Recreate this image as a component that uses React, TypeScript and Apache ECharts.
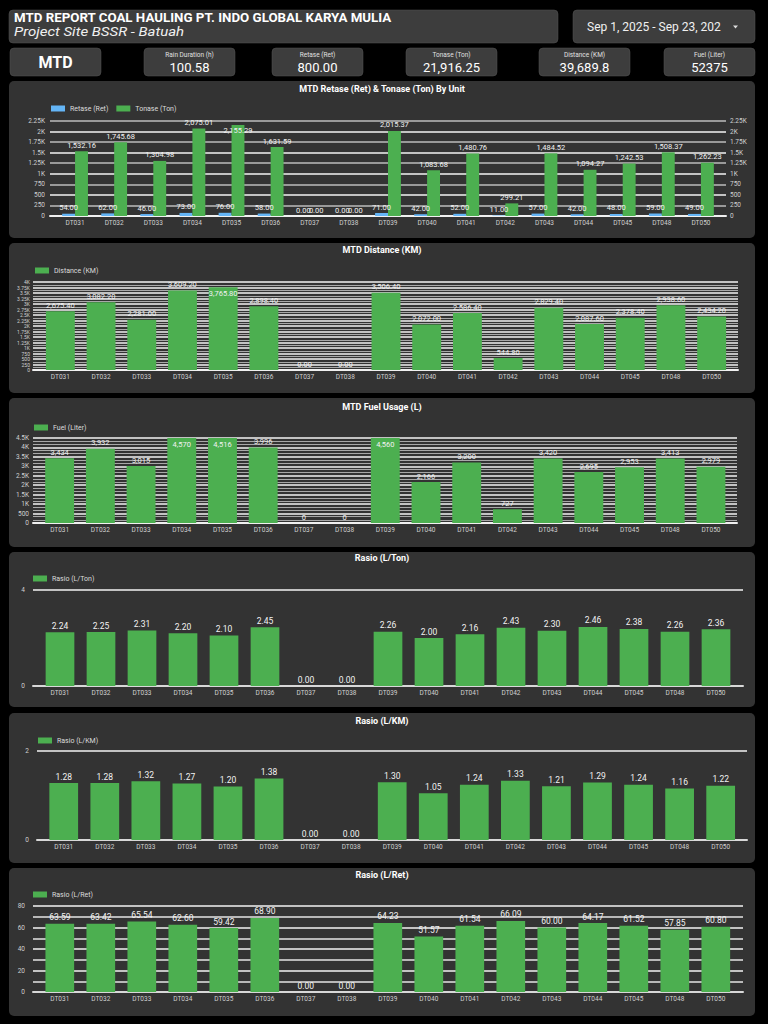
import React, { useEffect, useRef } from 'react';
import * as echarts from 'echarts';

// ---- data -------------------------------------------------------------
const units = ['DT031', 'DT032', 'DT033', 'DT034', 'DT035', 'DT036', 'DT037', 'DT038', 'DT039', 'DT040', 'DT041', 'DT042', 'DT043', 'DT044', 'DT045', 'DT048', 'DT050'];
const retase = [54, 62, 46, 73, 76, 58, 0, 0, 71, 42, 52, 11, 57, 42, 48, 59, 49];
const tonase = [1532.16, 1745.68, 1304.98, 2075.01, 2155.29, 1631.59, 0, 0, 2015.37, 1083.68, 1480.76, 299.21, 1484.52, 1094.27, 1242.53, 1508.37, 1262.23];
const distance = [2675.4, 3082.2, 2281.0, 3609.2, 3765.8, 2898.4, 0, 0, 3506.4, 2072.0, 2586.4, 544.8, 2829.4, 2087.6, 2378.4, 2938.6, 2434.2];
const fuel = [3434, 3932, 3015, 4570, 4516, 3996, 0, 0, 4560, 2166, 3200, 727, 3420, 2695, 2953, 3413, 2979];
const ratioLTon = [2.24, 2.25, 2.31, 2.2, 2.1, 2.45, 0, 0, 2.26, 2.0, 2.16, 2.43, 2.3, 2.46, 2.38, 2.26, 2.36];
const ratioLKm = [1.28, 1.28, 1.32, 1.27, 1.2, 1.38, 0, 0, 1.3, 1.05, 1.24, 1.33, 1.21, 1.29, 1.24, 1.16, 1.22];
const ratioLRet = [63.59, 63.42, 65.54, 62.6, 59.42, 68.9, 0, 0, 64.23, 51.57, 61.54, 66.09, 60.0, 64.17, 61.52, 57.85, 60.8];

const scorecards = [
  { label: 'Rain Duration (h)', value: '100.58' },
  { label: 'Retase (Ret)', value: '800.00' },
  { label: 'Tonase (Ton)', value: '21,916.25' },
  { label: 'Distance (KM)', value: '39,689.8' },
  { label: 'Fuel (Liter)', value: '52375' },
];

// ---- styling ----------------------------------------------------------
const FONT = 'Roboto, "Noto Sans", sans-serif';
const GREEN = '#4caf50';
const BLUE = '#64b5f6';
const PANEL = '#333333';
const BOX = '#3d3d3d';

const num = (d: number) => (v: number) =>
  Number(v).toLocaleString('en-US', { minimumFractionDigits: d, maximumFractionDigits: d });
const kFmt = (v: number) => (v >= 1000 ? `${v / 1000}K` : `${v}`);

// Full-width plot areas carry the gridlines and baseline; the inset ones hold the bars.
const lineGrids = [
  { left: 50, width: 676, top: 121, height: 95 },
  { left: 33, width: 705, top: 282, height: 88 },
  { left: 33, width: 704, top: 438, height: 85 },
  { left: 33, width: 710, top: 590, height: 96 },
  { left: 37, width: 710, top: 751, height: 89 },
  { left: 33, width: 710, top: 906, height: 86 },
];
const barGrids = [
  { left: 55.5, width: 665, top: 121, height: 95 },
  { left: 40, width: 692, top: 282, height: 88 },
  { left: 39.3, width: 692, top: 438, height: 85 },
  { left: 39.5, width: 697, top: 590, height: 96 },
  { left: 43.2, width: 698, top: 751, height: 89 },
  { left: 39.3, width: 697, top: 906, height: 86 },
];

const panels = [
  { y: 81, h: 157 },
  { y: 243, h: 150 },
  { y: 398, h: 149 },
  { y: 552, h: 155 },
  { y: 713, h: 150 },
  { y: 868, h: 148 },
];

const titles = [
  { text: 'MTD Retase (Ret) & Tonase (Ton) By Unit', top: 84 },
  { text: 'MTD Distance (KM)', top: 245 },
  { text: 'MTD Fuel Usage (L)', top: 402 },
  { text: 'Rasio (L/Ton)', top: 553 },
  { text: 'Rasio (L/KM)', top: 716 },
  { text: 'Rasio (L/Ret)', top: 870 },
];

const legends = [
  { data: ['Retase (Ret)', 'Tonase (Ton)'], left: 51, top: 105 },
  { data: ['Distance (KM)'], left: 35, top: 267 },
  { data: ['Fuel (Liter)'], left: 34, top: 424 },
  { data: ['Rasio (L/Ton)'], left: 33, top: 575 },
  { data: ['Rasio (L/KM)'], left: 38, top: 737 },
  { data: ['Rasio (L/Ret)'], left: 33, top: 891 },
];

// value-axis ranges per chart: [max, interval]
const scales: [number, number][] = [
  [2250, 250],
  [4000, 250],
  [4500, 500],
  [4, 4],
  [2, 2],
  [80, 20],
];

const axisText = { color: '#d0d0d0', fontSize: 6.5, fontFamily: FONT };

function barData(values: number[], max: number) {
  return values.map((v) =>
    v / max > 0.93 ? { value: v, label: { position: 'insideTop', distance: 2 } } : v
  );
}

function barSeries(name: string, values: number[], chart: number, color: string, width: string, digits: number, fontSize: number) {
  return {
    type: 'bar',
    name,
    xAxisIndex: 6 + chart,
    yAxisIndex: 7 + chart,
    data: barData(values, scales[chart][0]),
    barWidth: width,
    barGap: '0%',
    itemStyle: { color },
    label: {
      show: true,
      position: 'top',
      distance: 2,
      color: '#f2f2f2',
      fontSize,
      fontFamily: FONT,
      formatter: (p: any) => num(digits)(p.value),
    },
  };
}

function lineYAxis(chart: number, opts: any = {}) {
  const [max, interval] = scales[chart];
  return {
    type: 'value',
    gridIndex: chart,
    min: 0,
    max,
    interval,
    axisLine: { show: false },
    axisTick: { show: false },
    axisLabel: { ...axisText, margin: 5, formatter: kFmt, showMinLabel: true, showMaxLabel: true, hideOverlap: false },
    splitLine: { lineStyle: { color: '#f5f5f5', width: 1.5 } },
    ...opts,
  };
}

function buildOption() {
  const graphic: any[] = [];
  graphic.push({ type: 'rect', z: -20, shape: { x: 0, y: 0, width: 768, height: 1024 }, style: { fill: '#000' } });
  // header box
  graphic.push({ type: 'rect', z: -10, shape: { x: 9, y: 10, width: 549, height: 33, r: 4 }, style: { fill: BOX, stroke: '#555', lineWidth: 0.5 } });
  graphic.push({ type: 'text', x: 14, y: 18, scaleX: 1.11, style: { text: 'MTD REPORT COAL HAULING PT. INDO GLOBAL KARYA MULIA', fill: '#fff', font: `bold 12px ${FONT}`, verticalAlign: 'middle' } });
  graphic.push({ type: 'text', x: 14, y: 31, scaleX: 1.2, style: { text: 'Project Site BSSR - Batuah', fill: '#f0f0f0', font: `italic 12.5px ${FONT}`, verticalAlign: 'middle' } });
  // date range box
  graphic.push({ type: 'rect', z: -10, shape: { x: 573, y: 10, width: 182, height: 33, r: 4 }, style: { fill: BOX, stroke: '#555', lineWidth: 0.5 } });
  graphic.push({ type: 'text', x: 587, y: 27, style: { text: 'Sep 1, 2025 - Sep 23, 2025', width: 138, overflow: 'truncate', ellipsis: '', fill: '#f0f0f0', font: `12px ${FONT}`, verticalAlign: 'middle' } });
  graphic.push({ type: 'polygon', shape: { points: [[733, 25.5], [738, 25.5], [735.5, 28.5]] }, style: { fill: '#ddd' } });
  // scorecards
  graphic.push({ type: 'rect', z: -10, shape: { x: 10, y: 48, width: 91, height: 28, r: 4 }, style: { fill: BOX, stroke: '#555', lineWidth: 0.5 } });
  graphic.push({ type: 'text', x: 55.5, y: 62.5, style: { text: 'MTD', fill: '#fff', font: `bold 16px ${FONT}`, align: 'center', verticalAlign: 'middle' } });
  const cardX = [144, 272, 406, 539, 664];
  scorecards.forEach((c, i) => {
    const x = cardX[i];
    graphic.push({ type: 'rect', z: -10, shape: { x, y: 48, width: 91, height: 28, r: 4 }, style: { fill: BOX, stroke: '#555', lineWidth: 0.5 } });
    graphic.push({ type: 'text', x: x + 45.5, y: 55, style: { text: c.label, fill: '#e0e0e0', font: `6.5px ${FONT}`, align: 'center', verticalAlign: 'middle' } });
    graphic.push({ type: 'text', x: x + 45.5, y: 67, style: { text: c.value, fill: '#fff', font: `13px ${FONT}`, align: 'center', verticalAlign: 'middle' } });
  });
  // chart panels
  panels.forEach((p) => {
    graphic.push({ type: 'rect', z: -10, shape: { x: 9, y: p.y, width: 746, height: p.h, r: 5 }, style: { fill: PANEL } });
  });

  const xAxis = [
    // baselines spanning the full plot width
    ...lineGrids.map((_, i) => ({
      type: 'value',
      gridIndex: i,
      min: 0,
      max: 1,
      axisTick: { show: false },
      axisLabel: { show: false },
      splitLine: { show: false },
      axisLine: { show: true, lineStyle: { color: i >= 3 ? '#d8d8d8' : '#f0f0f0', width: 2 } },
    })),
    // unit categories under the bars
    ...barGrids.map((_, i) => ({
      type: 'category',
      gridIndex: 6 + i,
      data: units,
      axisTick: { show: false },
      axisLine: { show: false },
      axisLabel: { ...axisText, margin: 3, interval: 0 },
    })),
  ];

  const yAxis = [
    lineYAxis(0, { splitLine: { lineStyle: { color: ['#f5f5f5', '#bdbdbd'], width: 1.5 } } }),
    lineYAxis(0, { position: 'right', splitLine: { show: false }, axisLabel: { ...axisText, margin: 4, formatter: kFmt, showMinLabel: true, showMaxLabel: true, hideOverlap: false } }),
    lineYAxis(1, {
      axisLabel: { ...axisText, fontSize: 5, lineHeight: 5, margin: 3, formatter: kFmt, showMinLabel: true, showMaxLabel: true, hideOverlap: false },
      minorTick: { show: false, splitNumber: 2 },
      minorSplitLine: { show: true, lineStyle: { color: '#a8a8a8', width: 1 } },
    }),
    lineYAxis(2, {
      axisLabel: { ...axisText, margin: 4, formatter: kFmt, showMinLabel: true, showMaxLabel: true, hideOverlap: false },
      minorTick: { show: false, splitNumber: 3 },
      minorSplitLine: { show: true, lineStyle: { color: '#a8a8a8', width: 1 } },
    }),
    lineYAxis(3, { axisLabel: { ...axisText, margin: 8 } }),
    lineYAxis(4, { axisLabel: { ...axisText, margin: 8 } }),
    lineYAxis(5, {
      axisLabel: { ...axisText, margin: 8 },
      minorTick: { show: false, splitNumber: 2 },
      minorSplitLine: { show: true, lineStyle: { color: '#e6e6e6', width: 1.5 } },
    }),
    // hidden value axes for the bar plots, same ranges
    ...barGrids.map((_, i) => ({
      type: 'value',
      gridIndex: 6 + i,
      min: 0,
      max: scales[i][0],
      interval: scales[i][1],
      show: false,
      splitLine: { show: false },
    })),
  ];

  const series = [
    barSeries('Retase (Ret)', retase, 0, BLUE, '33%', 2, 7.5),
    barSeries('Tonase (Ton)', tonase, 0, GREEN, '33%', 2, 7.5),
    barSeries('Distance (KM)', distance, 1, GREEN, '71%', 2, 7.5),
    barSeries('Fuel (Liter)', fuel, 2, GREEN, '71%', 0, 7.5),
    barSeries('Rasio (L/Ton)', ratioLTon, 3, GREEN, '70%', 2, 8.5),
    barSeries('Rasio (L/KM)', ratioLKm, 4, GREEN, '70%', 2, 8.5),
    barSeries('Rasio (L/Ret)', ratioLRet, 5, GREEN, '70%', 2, 8.5),
  ];

  return {
    animation: false,
    backgroundColor: '#000',
    textStyle: { fontFamily: FONT },
    graphic,
    title: titles.map((t) => ({
      text: t.text,
      left: 382,
      textAlign: 'center',
      top: t.top,
      padding: 0,
      textStyle: { color: '#fff', fontSize: 9, fontWeight: 'bold', fontFamily: FONT },
    })),
    legend: legends.map((l) => ({
      data: l.data,
      left: l.left,
      top: l.top,
      padding: 0,
      icon: 'rect',
      itemWidth: 14,
      itemHeight: 6,
      itemGap: 8,
      textStyle: { color: '#dcdcdc', fontSize: 7, fontFamily: FONT },
    })),
    grid: [...lineGrids, ...barGrids].map((g) => ({ ...g, containLabel: false })),
    xAxis,
    yAxis,
    series,
  };
}

export default function App() {
  const ref = useRef<HTMLDivElement>(null);
  useEffect(() => {
    if (!ref.current) return;
    const chart = echarts.init(ref.current, undefined, { renderer: 'svg' });
    chart.setOption(buildOption() as any);
    return () => chart.dispose();
  }, []);
  return (
    <div
      ref={ref}
      style={{ position: 'absolute', left: 0, top: 0, width: 768, height: 1024, background: '#000' }}
    />
  );
}
